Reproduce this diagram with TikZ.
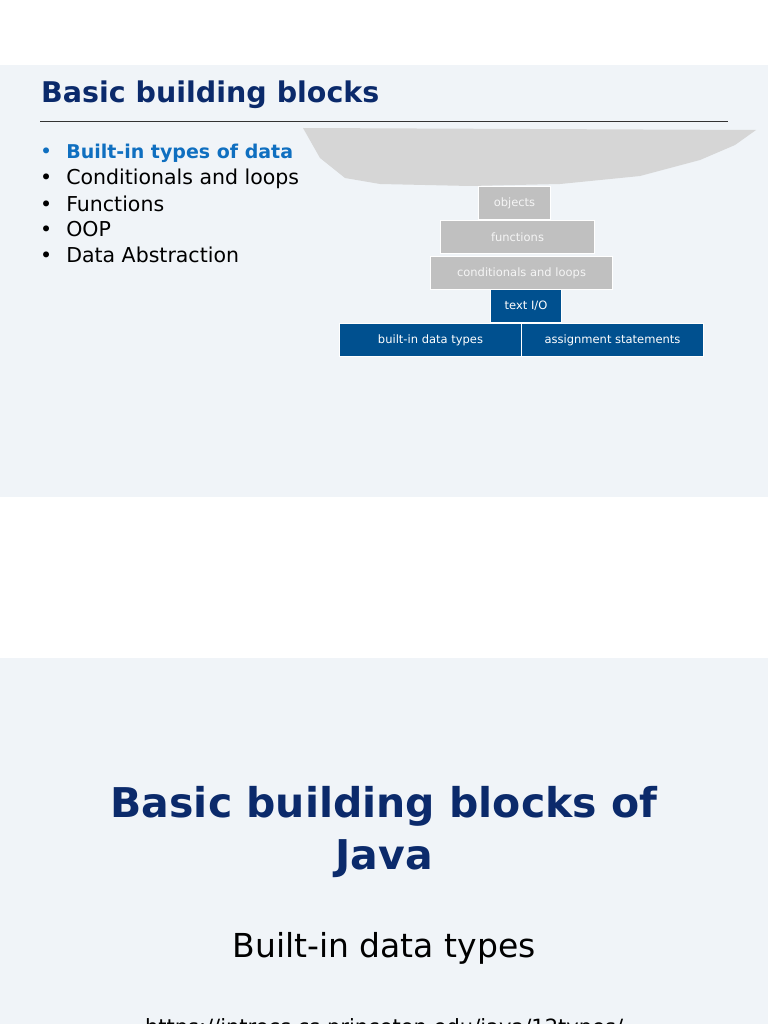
\documentclass[tikz,border=0pt]{standalone}
\usepackage{fontspec}
\setmainfont{DejaVu Sans}
\definecolor{bgp}{HTML}{F0F4F8}
\definecolor{navy}{HTML}{0B2A6B}
\definecolor{blu}{HTML}{00508F}
\definecolor{lblue}{HTML}{0F6FC0}
\definecolor{gry}{HTML}{C0C0C0}
\definecolor{blob}{HTML}{D6D6D6}
\tikzset{
 gbox/.style={fill=gry,draw=white,line width=0.8pt,text=white!92!gray,font=\fontsize{11.5}{13}\selectfont,inner sep=0pt},
 bbox/.style={fill=blu,draw=white,line width=0.8pt,text=white,font=\fontsize{11.5}{13}\selectfont,inner sep=0pt},
 bul/.style={anchor=west,font=\fontsize{20.5}{24}\selectfont,inner sep=0pt}
}
\begin{document}
\begin{tikzpicture}[x=1pt,y=-1pt]
\useasboundingbox (0,0) rectangle (768,1024);
\fill[white] (0,0) rectangle (768,1024);
\fill[bgp] (0,65) rectangle (768,497);
\fill[bgp] (0,658) rectangle (768,1024);
\node[anchor=west,font=\bfseries\fontsize{28.5}{32}\selectfont,text=navy,inner sep=0pt] (t1) at (41,95) {Basic building blocks};
\draw[line width=0.8pt,black!80] (40,121) -- (728,121);
\fill[blob] (303,128) -- (756,130) -- (735,145) -- (700,160) -- (640,176) -- (560,184) -- (470,186) -- (380,184) -- (345,178) -- (320,158) -- cycle;
\node[bul,text=lblue] (b1) at (40,153) {•\hspace{14pt}{\bfseries\fontsize{19}{24}\selectfont Built-in types of data}};
\node[bul] (b2) at (40,179) {•\hspace{14pt}Conditionals and loops};
\node[bul] (b3) at (40,204) {•\hspace{14pt}Functions};
\node[bul] (b4) at (40,229) {•\hspace{14pt}OOP};
\node[bul] (b5) at (40,255) {•\hspace{14pt}Data Abstraction};
\node[gbox,minimum width=72,minimum height=33] (ob) at (514.5,203) {objects};
\node[gbox,minimum width=154,minimum height=33] (fn) at (517.5,237) {functions};
\node[gbox,minimum width=182,minimum height=33] (cl) at (521.5,273) {conditionals and loops};
\node[bbox,minimum width=71,minimum height=33] (io) at (526,306) {text I/O};
\node[bbox,minimum width=182,minimum height=33] (bi) at (430.5,340) {built-in data types};
\node[bbox,minimum width=182,minimum height=33] (as) at (612.5,340) {assignment statements};
\node[font=\bfseries\fontsize{41}{52}\selectfont,text=navy,align=center] (t2) at (384,832) {Basic building blocks of\\Java};
\node[font=\fontsize{33}{38}\selectfont] (t3) at (384,948) {Built-in data types};
\begin{scope}
\clip (0,0) rectangle (768,1024);
\node[font=\fontsize{21}{26}\selectfont,anchor=base] (u) at (384,1034) {https://introcs.cs.princeton.edu/java/12types/};
\end{scope}
\end{tikzpicture}
\end{document}
